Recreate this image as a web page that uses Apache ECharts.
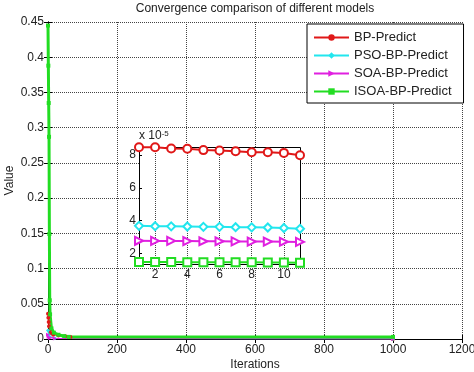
<!DOCTYPE html>
<html><head><meta charset="utf-8">
<script src="https://cdn.jsdelivr.net/npm/echarts@6/dist/echarts.min.js"></script>
<style>html,body{margin:0;padding:0;background:#fff}#c{width:474px;height:372px}</style>
</head><body><div id="c"></div>
<script>
// ---- data ----
const titleText = 'Convergence comparison of different models';
const seriesNames = ['BP-Predict', 'PSO-BP-Predict', 'SOA-BP-Predict', 'ISOA-BP-Predict'];

// main plot (iterations / value)
const bpIter = [0, 1, 2, 3, 5, 8, 15, 30, 50, 65, 1000];
const bpValue = [0.036, 0.03, 0.024, 0.018, 0.012, 0.008, 0.006, 0.005, 0.004, 0.003, 0.0001];
const psoIter = [0, 2, 5, 20, 1000];
const psoValue = [0.012, 0.006, 0.003, 0.001, 0.00005];
const soaIter = [0, 2, 6, 20, 1000];
const soaValue = [0.006, 0.003, 0.0015, 0.0008, 0.00003];
const isoaIter = [0, 1, 2, 3, 4, 5, 6, 10, 17, 30, 47, 60, 1000];
const isoaValue = [0.445, 0.388, 0.335, 0.287, 0.149, 0.055, 0.035, 0.015, 0.009, 0.006, 0.004, 0.003, 0.003];

// inset (values x 10^-5)
const insetIter = [1, 2, 3, 4, 5, 6, 7, 8, 9, 10, 11];
const insetBP = [8.49, 8.48, 8.41, 8.39, 8.31, 8.29, 8.24, 8.18, 8.18, 8.14, 8.0];
const insetPSO = [3.68, 3.66, 3.65, 3.64, 3.62, 3.62, 3.6, 3.59, 3.58, 3.55, 3.5];
const insetSOA = [2.77, 2.76, 2.76, 2.75, 2.74, 2.74, 2.73, 2.72, 2.72, 2.71, 2.7];
const insetISOA = [1.47, 1.47, 1.47, 1.46, 1.45, 1.45, 1.45, 1.45, 1.44, 1.44, 1.43];
const insetXTicks = [2, 4, 6, 8, 10];
const insetYTicks = [2, 4, 6, 8];
const insetYMin = 1.35, insetYMax = 8.5;

// ---- styling / layout ----
const FONT = 'Liberation Sans, Arial, sans-serif';
const colors = ['#e01818', '#22e6ee', '#e020e0', '#22dd22'];
const mainSymbols = ['circle', 'diamond', 'triangle', 'rect'];
const insetSymbols = ['emptyCircle', 'emptyDiamond', 'emptyTriangle', 'emptyRect'];
const insetBox = { left: 139, top: 147, width: 161, height: 117 };
const pairs = (xs, ys) => xs.map((x, i) => [x, ys[i]]);
const mainData = [pairs(bpIter, bpValue), pairs(psoIter, psoValue), pairs(soaIter, soaValue), pairs(isoaIter, isoaValue)];
const insetData = [pairs(insetIter, insetBP), pairs(insetIter, insetPSO), pairs(insetIter, insetSOA), pairs(insetIter, insetISOA)];

const chart = echarts.init(document.getElementById('c'));
const axisLine = { show: true, lineStyle: { color: '#000', width: 1 } };
const inTick = { show: true, inside: true, length: 4, lineStyle: { color: '#000' } };
const lbl = { color: '#222', fontSize: 12, fontFamily: FONT };
const dottedStyle = { color: '#444', type: 'dotted', width: 1 };
const dotted = { show: true, lineStyle: dottedStyle };
const plain = v => String(Math.round(v * 1000) / 1000);

const series = [];
seriesNames.forEach((n, k) => {
  series.push({
    name: n, type: 'line', xAxisIndex: 0, yAxisIndex: 0, data: mainData[k],
    symbol: mainSymbols[k], symbolSize: 4, symbolRotate: k === 2 ? -90 : 0,
    lineStyle: { color: colors[k], width: k === 3 ? 3 : 1.2 },
    itemStyle: { color: colors[k] }, animation: false, z: 2
  });
});
seriesNames.forEach((n, k) => {
  series.push({
    name: n, type: 'line', xAxisIndex: 2, yAxisIndex: 2, data: insetData[k],
    symbol: insetSymbols[k], symbolSize: 8, symbolRotate: k === 2 ? -90 : 0, showAllSymbol: true,
    lineStyle: { color: colors[k], width: 2 },
    itemStyle: { color: colors[k], borderWidth: 1.5 }, animation: false, z: 4
  });
});

chart.setOption({
  animation: false,
  textStyle: { fontFamily: FONT },
  grid: [
    { left: 48, right: 12, top: 22, bottom: 33, containLabel: false, outerBoundsMode: 'none' },
    { ...insetBox, show: false, containLabel: false, outerBoundsMode: 'none' }
  ],
  xAxis: [
    { type: 'value', gridIndex: 0, min: 0, max: 1200, interval: 200, position: 'bottom', z: 0,
      axisLine, axisTick: inTick, axisLabel: { ...lbl, margin: 5, formatter: plain }, splitLine: dotted,
      name: 'Iterations', nameLocation: 'middle', nameGap: 20, nameMoveOverlap: false, nameTextStyle: { ...lbl } },
    { type: 'value', gridIndex: 0, min: 0, max: 1200, interval: 200, position: 'top', z: 0,
      axisLine, axisTick: inTick, axisLabel: { show: false }, splitLine: { show: false } },
    { type: 'value', gridIndex: 1, min: 1, max: 11, position: 'bottom', z: 3,
      axisLine, axisTick: { ...inTick, length: 3, customValues: insetXTicks },
      axisLabel: { ...lbl, margin: 5, customValues: insetXTicks },
      splitLine: dotted }
  ],
  yAxis: [
    { type: 'value', gridIndex: 0, min: 0, max: 0.45, interval: 0.05, position: 'left', z: 0,
      axisLine, axisTick: inTick, axisLabel: { ...lbl, margin: 4, formatter: plain }, splitLine: dotted,
      name: 'Value', nameLocation: 'middle', nameGap: 32, nameMoveOverlap: false, nameRotate: 90, nameTextStyle: { ...lbl } },
    { type: 'value', gridIndex: 0, min: 0, max: 0.45, interval: 0.05, position: 'right', z: 0,
      axisLine, axisTick: inTick, axisLabel: { show: false }, splitLine: { show: false } },
    { type: 'value', gridIndex: 1, min: insetYMin, max: insetYMax, z: 3,
      axisLine, axisTick: { ...inTick, length: 3, customValues: insetYTicks },
      axisLabel: { ...lbl, margin: 3, customValues: insetYTicks }, splitLine: { show: false } }
  ],
  legend: {
    data: seriesNames, left: 307, top: 24, orient: 'vertical', selectedMode: false,
    itemWidth: 35, itemHeight: 8, itemGap: 5, padding: [7, 12, 5, 6],
    backgroundColor: '#fff', borderColor: '#000', borderWidth: 1, borderRadius: 0,
    textStyle: { color: '#222', fontSize: 13, fontFamily: FONT }, z: 10
  },
  graphic: [
    { type: 'rect', z: 1, silent: true,
      shape: { x: insetBox.left + 0.5, y: insetBox.top + 0.5, width: insetBox.width, height: insetBox.height },
      style: { fill: '#fff', stroke: '#000', lineWidth: 1 } },
    { type: 'text', x: 255, y: 3, z: 10, style: { text: titleText, textAlign: 'center', fontSize: 12, fontFamily: FONT, fill: '#222' } },
    { type: 'text', x: 139, y: 130, z: 10, style: { text: '{a|x 10}{b|-5}', fontFamily: FONT, fill: '#222',
        rich: { a: { fontSize: 12, fontFamily: FONT, fill: '#222', verticalAlign: 'bottom' }, b: { fontSize: 8, fontFamily: FONT, fill: '#222', verticalAlign: 'top' } } } }
  ],
  series
});
</script></body></html>
